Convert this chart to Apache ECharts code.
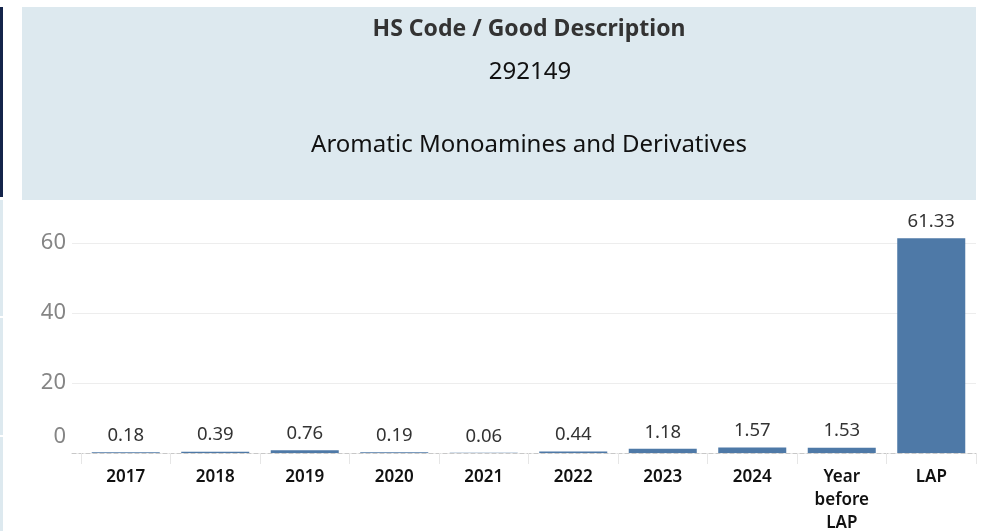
<!DOCTYPE html>
<html>
<head>
<meta charset="utf-8">
<script src="https://cdn.jsdelivr.net/npm/echarts@6/dist/echarts.min.js"></script>
<style>
  html, body { margin: 0; padding: 0; background: #fff; }
  #main { width: 986px; height: 531px; }
</style>
</head>
<body>
<div id="main"></div>
<script>
// data
var categories = ["2017", "2018", "2019", "2020", "2021", "2022", "2023", "2024", "Year\nbefore\nLAP", "LAP"];
var values = [0.18, 0.39, 0.76, 0.19, 0.06, 0.44, 1.18, 1.57, 1.53, 61.33];
var yTicks = { min: 0, max: 60, interval: 20 };
var headerLine1 = "HS Code / Good Description";
var headerCode = "292149";
var headerDesc = "Aromatic Monoamines and Derivatives";

var FONT = "Noto Sans";
var myChart = echarts.init(document.getElementById("main"));

var option = {
  animation: false,
  backgroundColor: "#fff",
  textStyle: { fontFamily: FONT },
  graphic: [
    // header panel + left strips
    { type: "rect", shape: { x: 22, y: 7, width: 954, height: 193 }, style: { fill: "#dde9ef" }, silent: true },
    { type: "rect", shape: { x: 0, y: 7, width: 3, height: 190 }, style: { fill: "#14244a" }, silent: true },
    { type: "rect", shape: { x: 0, y: 200, width: 3, height: 116 }, style: { fill: "#dde9ef" }, silent: true },
    { type: "rect", shape: { x: 0, y: 318, width: 3, height: 117 }, style: { fill: "#dde9ef" }, silent: true },
    { type: "rect", shape: { x: 0, y: 437, width: 3, height: 94 }, style: { fill: "#dde9ef" }, silent: true },
    {
      type: "text", x: 529, y: 29,
      style: { text: headerLine1, fill: "#333", font: "bold 23px '" + FONT + "'", textAlign: "center", textVerticalAlign: "middle" }
    },
    {
      type: "text", x: 530, y: 72,
      style: { text: headerCode, fill: "#111", font: "24px '" + FONT + "'", textAlign: "center", textVerticalAlign: "middle" }
    },
    {
      type: "text", x: 529, y: 145,
      style: { text: headerDesc, fill: "#111", font: "24px '" + FONT + "'", textAlign: "center", textVerticalAlign: "middle" }
    }
  ],
  grid: [
    // background gridlines
    { left: 72, right: 10, top: 243, bottom: 78, outerBoundsMode: "none", containLabel: false },
    // bars
    { left: 81, right: 10, top: 243, bottom: 78, outerBoundsMode: "none", containLabel: false }
  ],
  xAxis: [
    {
      gridIndex: 0, type: "value", min: 0, max: 1,
      axisLine: { show: true, lineStyle: { color: "#c8c8c8", type: [4, 3], width: 1 } },
      axisTick: { show: false }, axisLabel: { show: false }, splitLine: { show: false }
    },
    {
      gridIndex: 1, type: "category", data: categories,
      axisLine: { show: false },
      axisTick: { show: true, length: 11, lineStyle: { color: "#e6e6e6" } },
      axisLabel: {
        margin: 13, color: "#111", fontSize: 17, fontWeight: 600,
        lineHeight: 23, fontFamily: FONT
      }
    }
  ],
  yAxis: [
    {
      gridIndex: 0, type: "value",
      min: yTicks.min, max: yTicks.max, interval: yTicks.interval,
      axisLine: { show: false }, axisTick: { show: false },
      splitLine: { lineStyle: { color: "#ededed", width: 1 } },
      axisLabel: {
        margin: 6, color: "#858585", fontSize: 22, fontFamily: FONT,
        formatter: function (v) { return v === 0 ? "{z|0}" : "{n|" + v + "}"; },
        rich: {
          z: { fontSize: 22, color: "#858585", padding: [0, 0, 32, 0] },
          n: { fontSize: 22, color: "#858585" }
        }
      }
    },
    {
      gridIndex: 1, type: "value", show: false,
      min: yTicks.min, max: yTicks.max, interval: yTicks.interval,
      splitLine: { show: false }
    }
  ],
  series: [
    {
      type: "bar",
      xAxisIndex: 1,
      yAxisIndex: 1,
      data: values,
      barWidth: "76%",
      clip: false,
      itemStyle: { color: "#4e79a7" },
      label: {
        show: true, position: "top", distance: 7,
        color: "#333", fontSize: 18.5, fontFamily: FONT,
        formatter: function (p) { return p.value.toFixed(2); }
      }
    }
  ]
};

myChart.setOption(option);
</script>
</body>
</html>
